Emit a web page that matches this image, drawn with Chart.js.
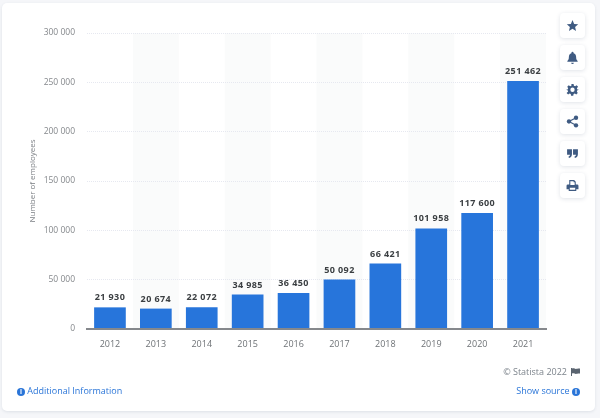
<!DOCTYPE html>
<html>
<head>
<meta charset="utf-8">
<script src="https://cdn.jsdelivr.net/npm/chart.js@4"></script>
<style>
  html, body { margin: 0; padding: 0; background: #f5f6f9; }
  body { width: 600px; height: 418px; position: relative; overflow: hidden; font-family: "Open Sans", sans-serif; }
  #card { position: absolute; left: 2px; top: 3px; width: 593px; height: 408px; background: #fff; border-radius: 5px; box-shadow: 0 1px 3px rgba(60,80,110,0.12); }
  #chart-box { position: absolute; left: 0; top: 0; width: 600px; height: 418px; }
  .btn { position: absolute; left: 560px; width: 25px; height: 25px; background: #fff; border-radius: 4px; box-shadow: 0 1px 4px rgba(60,80,110,0.16); }
  .btn svg { position: absolute; left: 6px; top: 6px; width: 13px; height: 13px; fill: #3f5b82; }
  .foot { position: absolute; font-size: 9px; line-height: 12px; white-space: nowrap; }
  .link { color: #2a75d8; }
  .info { display: inline-block; width: 8px; height: 8px; border-radius: 50%; background: #2a75d8; color: #fff; font: bold 6.5px/8px "Open Sans", sans-serif; text-align: center; vertical-align: 0; }
</style>
</head>
<body>
<div id="card"></div>
<div id="chart-box"><canvas id="chart" width="600" height="418"></canvas></div>

<div class="btn" style="top:13px"><svg viewBox="0 0 24 24"><path d="M12 2l3 7 7.500 .7-5.700 5 1.700 7.300-6.500-3.900-6.500 3.900 1.700-7.300-5.700-5 7.500-.7z"/></svg></div>
<div class="btn" style="top:45px"><svg viewBox="0 0 24 24"><path d="M12 1.500a2 2 0 0 1 2 2v.6c3 .9 4.700 3.500 4.700 6.900 0 4 1 5.500 2.800 7.500v1.500h-19V18.500c1.800-2 2.800-3.500 2.800-7.500 0-3.400 1.700-6 4.700-6.900v-.6a2 2 0 0 1 2-2zM9.500 21.500h5a2.500 2.500 0 0 1-5 0z"/></svg></div>
<div class="btn" style="top:77px"><svg viewBox="0 0 24 24"><path fill-rule="evenodd" d="M10 2h4l.6 3 2.300 1 2.600-1.700 2.800 2.800L20 9.700l1 2.300 3 .6v0l-3 .8-1 2.300 1.700 2.600-2.800 2.800-2.600-1.700-2.300 1-.6 3h-4l-.6-3-2.300-1-2.600 1.700-2.800-2.800L4 15.700l-1-2.300-3-.8v0l3-.6 1-2.300-1.700-2.600 2.800-2.800 2.600 1.700 2.300-1zM12 8.500a4 4 0 1 0 0 8 4 4 0 0 0 0-8z"/></svg></div>
<div class="btn" style="top:109px"><svg viewBox="0 0 24 24"><circle cx="5.500" cy="12" r="4"/><circle cx="18.500" cy="5" r="4"/><circle cx="18.500" cy="19" r="4"/><path d="M5 11l13-7 1 2-13 7zM6 11l13 7-1 2-13-7z"/></svg></div>
<div class="btn" style="top:141px"><svg viewBox="0 0 24 24"><path d="M2 4h9v9c0 4-2 6.500-5.500 7.500l-1-2.500c2-.7 3-2 3-3.500H2zM13 4h9v9c0 4-2 6.500-5.500 7.500l-1-2.500c2-.7 3-2 3-3.500H13z"/></svg></div>
<div class="btn" style="top:173px"><svg viewBox="0 0 24 24"><path fill-rule="evenodd" d="M6 2h9l3 3v5h2.500A2.500 2.500 0 0 1 23 12.500V19h-4v3H5v-3H1v-6.500A2.500 2.500 0 0 1 3.500 10H6zM8 4v7h8V6h-2V4zM7 16v4h10v-4z"/></svg></div>

<div class="foot link" style="left:17px;top:385px"><span class="info">i</span> Additional Information</div>
<div class="foot" style="right:33px;top:366px;color:#7d848c">© Statista 2022</div>
<svg style="position:absolute;left:571px;top:368px;width:9px;height:8px" viewBox="0 0 9 8"><path fill="#5a6470" d="M0 0h1v8H0zM1 .5c2-.8 3 .6 4 .4s2-.6 4-.4v5c-2-.2-3 .2-4 .4s-2-1-4-.4z"/></svg>
<div class="foot link" style="right:20px;top:385px">Show source <span class="info">i</span></div>

<script>
var categories = ["2012", "2013", "2014", "2015", "2016", "2017", "2018", "2019", "2020", "2021"];
var employees = [21930, 20674, 22072, 34985, 36450, 50092, 66421, 101958, 117600, 251462];
var yTicks = [0, 50000, 100000, 150000, 200000, 250000, 300000];

var fontFamily = "'Open Sans', sans-serif";

function spaced(value) {
  return String(value).replace(/\B(?=(\d{3})+(?!\d))/g, " ");
}

// light bands behind every second year, under the grid
var bandPlugin = {
  id: "bands",
  beforeDraw: function (chart) {
    var area = chart.chartArea;
    var x = chart.scales.x;
    var ctx = chart.ctx;
    var step = x.getPixelForValue(1) - x.getPixelForValue(0);
    ctx.save();
    ctx.fillStyle = "#fafbfb";
    categories.forEach(function (c, i) {
      if (i % 2 === 1) {
        ctx.fillRect(x.getPixelForValue(i) - step / 2, area.top, step, area.bottom - area.top);
      }
    });
    ctx.restore();
  }
};

var valueLabelPlugin = {
  id: "valueLabels",
  afterDatasetsDraw: function (chart) {
    var ctx = chart.ctx;
    var bars = chart.getDatasetMeta(0).data;
    ctx.save();
    ctx.font = "bold 9px " + fontFamily;
    ctx.letterSpacing = "0.4px";
    ctx.fillStyle = "#3c4043";
    ctx.textAlign = "center";
    ctx.textBaseline = "bottom";
    bars.forEach(function (bar, i) {
      ctx.fillText(spaced(employees[i]), bar.x, bar.y - 5);
    });
    ctx.restore();
  }
};

new Chart(document.getElementById("chart"), {
  type: "bar",
  data: {
    labels: categories,
    datasets: [{
      data: employees,
      backgroundColor: "#2775db",
      borderWidth: 0,
      barPercentage: 0.69,
      categoryPercentage: 1
    }]
  },
  plugins: [bandPlugin, valueLabelPlugin],
  options: {
    responsive: false,
    animation: false,
    layout: { padding: { left: 0, right: 54, top: 33, bottom: 69 } },
    plugins: { legend: { display: false }, tooltip: { enabled: false } },
    scales: {
      x: {
        afterFit: function (scale) { scale.height = 20; },
        grid: { display: false },
        border: { color: "#85888c", width: 2, z: 1 },
        ticks: {
          color: "#6e7276",
          padding: 2,
          maxRotation: 0,
          font: { family: fontFamily, size: 9 }
        }
      },
      y: {
        min: 0,
        max: 300000,
        afterFit: function (scale) { scale.width = 87; },
        afterBuildTicks: function (scale) {
          scale.ticks = yTicks.map(function (v) { return { value: v }; });
        },
        grid: { color: "#e6e8f0", lineWidth: 1, drawTicks: false },
        border: { display: false, dash: [1, 1] },
        title: {
          display: true,
          text: "Number of employees",
          color: "#7b7f84",
          padding: { top: 28, bottom: 0 },
          font: { family: fontFamily, size: 8 }
        },
        ticks: {
          color: "#85888c",
          padding: 12,
          font: { family: fontFamily, size: 8.5 },
          callback: function (v) { return spaced(v); }
        }
      }
    }
  }
});
</script>
</body>
</html>
